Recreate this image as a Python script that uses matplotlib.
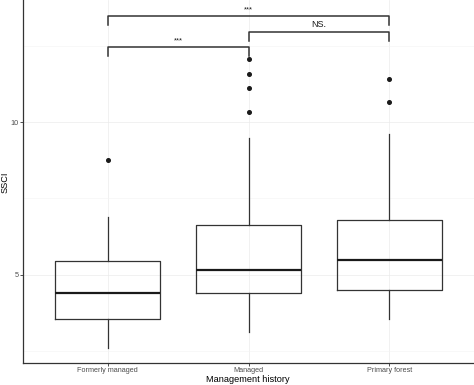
import matplotlib
matplotlib.use('Agg')
import matplotlib.pyplot as plt

# Data
groups = ['Formerly managed', 'Managed', 'Primary forest']
whislo = [2.61, 3.15, 3.55]
q1 = [3.56, 4.42, 4.51]
med = [4.41, 5.17, 5.48]
q3 = [5.46, 6.64, 6.80]
whishi = [6.90, 9.49, 9.62]
fliers = [[8.76], [10.32, 11.12, 11.56, 12.06], [10.65, 11.41]]

# significance brackets: (from group, to group, bar height, label)
brackets = [(1, 2, 12.46, '***'), (2, 3, 12.95, 'NS.'), (1, 3, 13.46, '***')]

plt.rcParams['font.family'] = ['Liberation Sans', 'DejaVu Sans']

fig = plt.figure(figsize=(4.74, 3.85), dpi=100)
ax = fig.add_axes([23 / 474, 22 / 385, 451 / 474, 363 / 385])

stats = []
for i, g in enumerate(groups):
    stats.append(dict(label=g, whislo=whislo[i], q1=q1[i], med=med[i],
                      q3=q3[i], whishi=whishi[i], fliers=fliers[i]))

positions = range(1, len(groups) + 1)
ax.bxp(stats, positions=positions, widths=0.75, showcaps=False,
       boxprops=dict(color='#333333', linewidth=0.9),
       whiskerprops=dict(color='#333333', linewidth=0.9),
       medianprops=dict(color='#1a1a1a', linewidth=1.6),
       flierprops=dict(marker='o', markerfacecolor='#1a1a1a',
                       markeredgecolor='#1a1a1a', markersize=2.6),
       zorder=3)

for a, b, h, lab in brackets:
    ax.plot([a, a, b, b], [h - 0.29, h, h, h - 0.29], color='#333333',
            linewidth=1.1, zorder=4)
    ax.text((a + b) / 2, h + 0.08, lab, ha='center', va='bottom',
            fontsize=6.5 if lab == 'NS.' else 5.5, color='#1a1a1a')

ax.set_xlim(0.4, 3.6)
ax.set_ylim(2.12, 13.99)
ax.set_yticks([5, 10])
ax.set_yticks([2.5, 7.5, 12.5], minor=True)
ax.set_xticks(list(positions))
ax.set_xticklabels(groups)
ax.grid(True, which='major', color='#ebebeb', linewidth=0.5, zorder=0)
ax.grid(True, which='minor', axis='y', color='#f4f4f4', linewidth=0.4, zorder=0)
ax.set_axisbelow(True)

for s in ['top', 'right']:
    ax.spines[s].set_visible(False)
for s in ['left', 'bottom']:
    ax.spines[s].set_color('#333333')
    ax.spines[s].set_linewidth(0.9)

ax.tick_params(axis='both', which='major', length=2, width=0.6,
               color='#333333', labelsize=5.2, labelcolor='#4d4d4d', pad=1)
ax.tick_params(axis='y', which='minor', length=0)

# axis titles placed in figure pixels so they stay inside the image
fig.text(248 / 474, 1 - 379.5 / 385, 'Management history', fontsize=6.6,
         ha='center', va='center')
fig.text(5 / 474, 1 - 182 / 385, 'SSCI', fontsize=6.6, rotation=90,
         ha='center', va='center')

fig.savefig('out.png', dpi=100)
